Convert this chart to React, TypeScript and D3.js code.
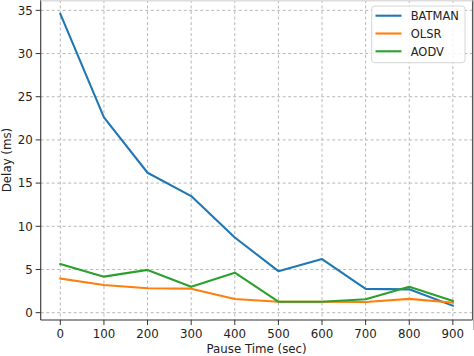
import React from "react";
import * as d3 from "d3";

const pauseTimes = [0, 100, 200, 300, 400, 500, 600, 700, 800, 900];
const batman = [34.6, 22.6, 16.2, 13.5, 8.7, 4.8, 6.2, 2.75, 2.7, 0.8];
const olsr = [3.94, 3.2, 2.82, 2.78, 1.59, 1.27, 1.27, 1.24, 1.6, 1.16];
const aodv = [5.64, 4.17, 4.95, 3.0, 4.63, 1.27, 1.27, 1.55, 3.0, 1.35];
const seriesNames = ["BATMAN", "OLSR", "AODV"];
const seriesColors = ["#1f77b4", "#ff7f0e", "#2ca02c"];
const xTicks = [0, 100, 200, 300, 400, 500, 600, 700, 800, 900];
const yTicks = [0, 5, 10, 15, 20, 25, 30, 35];

const W = 474;
const H = 356;
const FONT = "DejaVu Sans, sans-serif";

export default function App() {
  const left = 40.7;
  const right = 472.5;
  const top = 0;
  const bottom = 320;
  const x = d3.scaleLinear().domain([-45, 945]).range([left, right]);
  const y = d3.scaleLinear().domain([-0.85, 36.2]).range([bottom, top]);
  const line = d3
    .line<number>()
    .x((_, i) => x(pauseTimes[i]))
    .y((d) => y(d));
  const series = [batman, olsr, aodv];

  return (
    <svg
      width={W}
      height={H}
      style={{ position: "absolute", left: 0, top: 0, display: "block" }}
      fontFamily={FONT}
    >
      <rect x={0} y={0} width={W} height={H} fill="#ffffff" />
      {/* grid */}
      {xTicks.map((t) => (
        <line
          key={"gx" + t}
          x1={x(t)}
          x2={x(t)}
          y1={top}
          y2={bottom}
          stroke="#b0b0b0"
          strokeWidth={0.9}
          strokeDasharray="3,2.5"
        />
      ))}
      {yTicks.map((t) => (
        <line
          key={"gy" + t}
          x1={left}
          x2={right}
          y1={y(t)}
          y2={y(t)}
          stroke="#b0b0b0"
          strokeWidth={0.9}
          strokeDasharray="3,2.5"
        />
      ))}
      {/* lines */}
      {series.map((s, i) => (
        <path
          key={"s" + i}
          d={line(s) || ""}
          fill="none"
          stroke={seriesColors[i]}
          strokeWidth={2.1}
          strokeLinejoin="round"
          strokeLinecap="square"
        />
      ))}
      {/* spines */}
      <line x1={left} x2={left} y1={top} y2={bottom} stroke="#333" strokeWidth={1.1} />
      <line x1={left} x2={right} y1={bottom} y2={bottom} stroke="#333" strokeWidth={1.1} />
      <line x1={right} x2={right} y1={top} y2={bottom} stroke="#555" strokeWidth={1.1} />
      <rect x={right + 0.5} y={0} width={W - right} height={H - 26} fill="#bdbdbd" />
      <line x1={left} x2={right} y1={0.5} y2={0.5} stroke="#ddd" strokeWidth={2} />
      {/* x ticks */}
      {xTicks.map((t) => (
        <g key={"xt" + t}>
          <line x1={x(t)} x2={x(t)} y1={bottom} y2={bottom + 5} stroke="#333" strokeWidth={1} />
          <text x={x(t)} y={bottom + 18} textAnchor="middle" fontSize={11.8} fill="#222">
            {t}
          </text>
        </g>
      ))}
      {/* y ticks */}
      {yTicks.map((t) => (
        <g key={"yt" + t}>
          <line x1={left - 5} x2={left} y1={y(t)} y2={y(t)} stroke="#333" strokeWidth={1} />
          <text x={left - 8} y={y(t) + 4.3} textAnchor="end" fontSize={11.8} fill="#222">
            {t}
          </text>
        </g>
      ))}
      {/* axis labels */}
      <text x={(left + right) / 2} y={353} textAnchor="middle" fontSize={11.8} fill="#222">
        Pause Time (sec)
      </text>
      <text
        transform={`translate(11,${(top + bottom) / 2}) rotate(-90)`}
        textAnchor="middle"
        fontSize={11.8}
        fill="#222"
      >
        Delay (ms)
      </text>
      {/* legend */}
      <rect
        x={371.7}
        y={6}
        width={93.3}
        height={56.7}
        rx={3}
        fill="#ffffff"
        fillOpacity={0.85}
        stroke="#d6d6d6"
        strokeWidth={1}
      />
      {seriesNames.map((n, i) => (
        <g key={"lg" + n}>
          <line
            x1={375.5}
            x2={401.5}
            y1={15.7 + i * 17.8}
            y2={15.7 + i * 17.8}
            stroke={seriesColors[i]}
            strokeWidth={2.1}
          />
          <text x={410.7} y={15.7 + i * 17.8 + 4.2} fontSize={11.5} fill="#222">
            {n}
          </text>
        </g>
      ))}
    </svg>
  );
}
